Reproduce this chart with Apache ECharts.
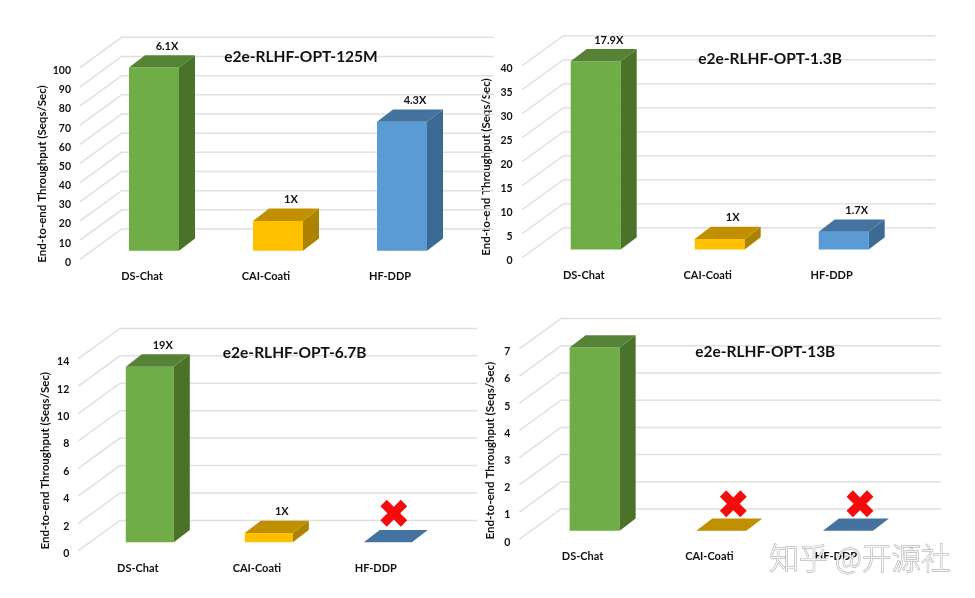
<!DOCTYPE html>
<html>
<head>
<meta charset="utf-8">
<title>e2e-RLHF-OPT throughput</title>
<style>
  html, body { margin: 0; padding: 0; background: #fff; }
  #chart { width: 975px; height: 598px; }
</style>
</head>
<body>
<div id="chart"></div>
<script src="https://cdn.jsdelivr.net/npm/echarts@6/dist/echarts.min.js"></script>
<script>
// Throughput of the three trainers on four model sizes
var categories = ['DS-Chat', 'CAI-Coati', 'HF-DDP'];
var axisName = 'End-to-end Throughput (Seqs/Sec)';

var titles = ['e2e-RLHF-OPT-125M', 'e2e-RLHF-OPT-1.3B', 'e2e-RLHF-OPT-6.7B', 'e2e-RLHF-OPT-13B'];

var values125M = [95.6, 15.6, 67.3];
var values13B = [39.2, 2.2, 3.7];
var values67B = [12.8, 0.67, 0];
var values130B = [6.74, 0, 0];

var labels125M = ['6.1X', '1X', '4.3X'];
var labels13B = ['17.9X', '1X', '1.7X'];
var labels67B = ['19X', '1X', ''];
var labels130B = ['', '', ''];

var ticks125M = [0, 10, 20, 30, 40, 50, 60, 70, 80, 90, 100];
var ticks13B = [0, 5, 10, 15, 20, 25, 30, 35, 40];
var ticks67B = [0, 2, 4, 6, 8, 10, 12, 14];
var ticks130B = [0, 1, 2, 3, 4, 5, 6, 7];

// Office 3D look: front, side, top
var barColors = [
  ['#70ad47', '#4a7229', '#568235'],
  ['#ffc000', '#ab8300', '#c09000'],
  ['#5b9bd5', '#3b6a94', '#44739f']
];

var wallDepth = [41.7, -30.3];
var barShift = [12, -8.5];
var barDepth = [16, -12.3];

var panels = [
  { left: 80, top: 67.6, width: 372, height: 191.7, barWidth: 50, values: values125M, labels: labels125M, ticks: ticks125M,
    titleX: 301, titleY: 57, nameX: 42.7, nameY: 174, mark: [6, -29] },
  { left: 521.7, top: 66, width: 372, height: 192, barWidth: 50, values: values13B, labels: labels13B, ticks: ticks13B,
    titleX: 770, titleY: 59, nameX: 486.7, nameY: 167, mark: [6, -29] },
  { left: 78.3, top: 358.7, width: 357, height: 192, barWidth: 48, values: values67B, labels: labels67B, ticks: ticks67B,
    titleX: 294.7, titleY: 352.7, nameX: 45.7, nameY: 460.8, mark: [6, -29] },
  { left: 519.3, top: 348.9, width: 380, height: 190.4, barWidth: 50, values: values130B, labels: labels130B, ticks: ticks130B,
    titleX: 765.3, titleY: 352.3, nameX: 490, nameY: 450.7, mark: [12, -27] }
];

var FONT = 'Lato, "Liberation Sans", sans-serif';
var INK = '#111';

function shifted(p, d) { return [p[0] + d[0], p[1] + d[1]]; }

// X shape made from a plus rotated by 45 degrees
function crossPoints(cx, cy) {
  var L = 14.5, t = 4.5;
  var plus = [[-t,-L],[t,-L],[t,-t],[L,-t],[L,t],[t,t],[t,L],[-t,L],[-t,t],[-L,t],[-L,-t],[-t,-t]];
  var c = Math.SQRT1_2;
  return plus.map(function(p) {
    return [cx + (p[0] - p[1]) * c, cy + (p[0] + p[1]) * c];
  });
}

function renderWall(params, api) {
  var y = api.coord([0, api.value(1)])[1];
  var sys = params.coordSys;
  var back = shifted([sys.x, y], wallDepth);
  return {
    type: 'polyline',
    silent: true,
    shape: { points: [[sys.x, y], back, [back[0] + sys.width, back[1]]] },
    style: { stroke: '#e0e0e0', lineWidth: 1.5, fill: null }
  };
}

function makeBarRenderer(panel) {
  return function(params, api) {
    var i = api.value(0);
    var base = shifted(api.coord([i, 0]), barShift);
    var top = shifted(api.coord([i, api.value(1)]), barShift);
    var hw = panel.barWidth / 2;
    var fl = [top[0] - hw, top[1]], fr = [top[0] + hw, top[1]];
    var bl = [base[0] - hw, base[1]], br = [base[0] + hw, base[1]];
    var colors = barColors[i];
    var children = [];
    if (api.value(1) > 0) {
      children.push({ type: 'polygon', shape: { points: [bl, br, fr, fl] }, style: { fill: colors[0] } });
      children.push({ type: 'polygon', shape: { points: [br, shifted(br, barDepth), shifted(fr, barDepth), fr] }, style: { fill: colors[1] } });
    }
    children.push({ type: 'polygon', shape: { points: [fl, fr, shifted(fr, barDepth), shifted(fl, barDepth)] }, style: { fill: colors[2] } });
    if (panel.labels[i]) {
      children.push({
        type: 'text',
        style: {
          text: panel.labels[i],
          x: top[0] + 13, y: top[1] + barDepth[1] - 9,
          align: 'center', verticalAlign: 'middle',
          font: 'bold 11px ' + FONT, fill: INK
        }
      });
    } else if (api.value(1) === 0) {
      children.push({
        type: 'polygon',
        shape: { points: crossPoints(base[0] + panel.mark[0], base[1] + panel.mark[1]) },
        style: { fill: '#f40b0b' }
      });
    }
    return { type: 'group', silent: true, children: children };
  };
}

var grids = [], xAxes = [], yAxes = [], series = [], titleOpts = [], graphics = [];

panels.forEach(function(panel, n) {
  var step = panel.ticks[1] - panel.ticks[0];
  grids.push({ left: panel.left, top: panel.top, width: panel.width, height: panel.height, containLabel: false });
  xAxes.push({
    type: 'category',
    gridIndex: n,
    data: categories,
    axisLine: { show: false },
    axisTick: { show: false },
    axisLabel: { color: INK, fontFamily: FONT, fontWeight: 'bold', fontSize: 11, margin: 12, interval: 0 }
  });
  yAxes.push({
    type: 'value',
    gridIndex: n,
    min: panel.ticks[0],
    max: panel.ticks[panel.ticks.length - 1],
    interval: step,
    axisLine: { show: false },
    axisTick: { show: false },
    splitLine: { show: false },
    // labels sit a little below their tick in the reference
    axisLabel: { color: INK, fontFamily: FONT, fontWeight: 'bold', fontSize: 10.5, margin: 9, verticalAlign: 'top', lineHeight: 6 }
  });
  series.push({
    type: 'custom',
    xAxisIndex: n,
    yAxisIndex: n,
    z: 1,
    silent: true,
    clip: false,
    encode: { x: 0, y: 1 },
    data: panel.ticks.map(function(t) { return [0, t]; }),
    renderItem: renderWall
  });
  series.push({
    type: 'custom',
    xAxisIndex: n,
    yAxisIndex: n,
    z: 2,
    silent: true,
    clip: false,
    encode: { x: 0, y: 1 },
    data: panel.values.map(function(v, i) { return [i, v]; }),
    renderItem: makeBarRenderer(panel)
  });
  titleOpts.push({
    text: titles[n],
    left: panel.titleX,
    top: panel.titleY,
    textAlign: 'center',
    textVerticalAlign: 'middle',
    padding: 0,
    z: 5,
    textStyle: { color: INK, fontFamily: FONT, fontWeight: 'bold', fontSize: 15.5 }
  });
  graphics.push({
    type: 'text',
    x: panel.nameX,
    y: panel.nameY,
    rotation: Math.PI / 2,
    silent: true,
    style: {
      text: axisName,
      align: 'center', verticalAlign: 'middle',
      font: 'bold 11.5px ' + FONT, fill: INK
    }
  });
});

// site watermark over the lower right corner
graphics.push({
  type: 'text',
  x: 860,
  y: 558,
  z: 50,
  silent: true,
  style: {
    text: '知乎 @开源社',
    align: 'center', verticalAlign: 'middle',
    font: '300 29.5px "Noto Sans CJK SC", sans-serif',
    fill: 'rgba(255,255,255,0.85)',
    stroke: '#a0a0a0',
    lineWidth: 0.9
  }
});

var chart = echarts.init(document.getElementById('chart'), null, { renderer: 'canvas' });
chart.setOption({
  animation: false,
  backgroundColor: '#ffffff',
  title: titleOpts,
  grid: grids,
  xAxis: xAxes,
  yAxis: yAxes,
  series: series,
  graphic: graphics
});
window.addEventListener('resize', function() { chart.resize(); });
</script>
</body>
</html>
